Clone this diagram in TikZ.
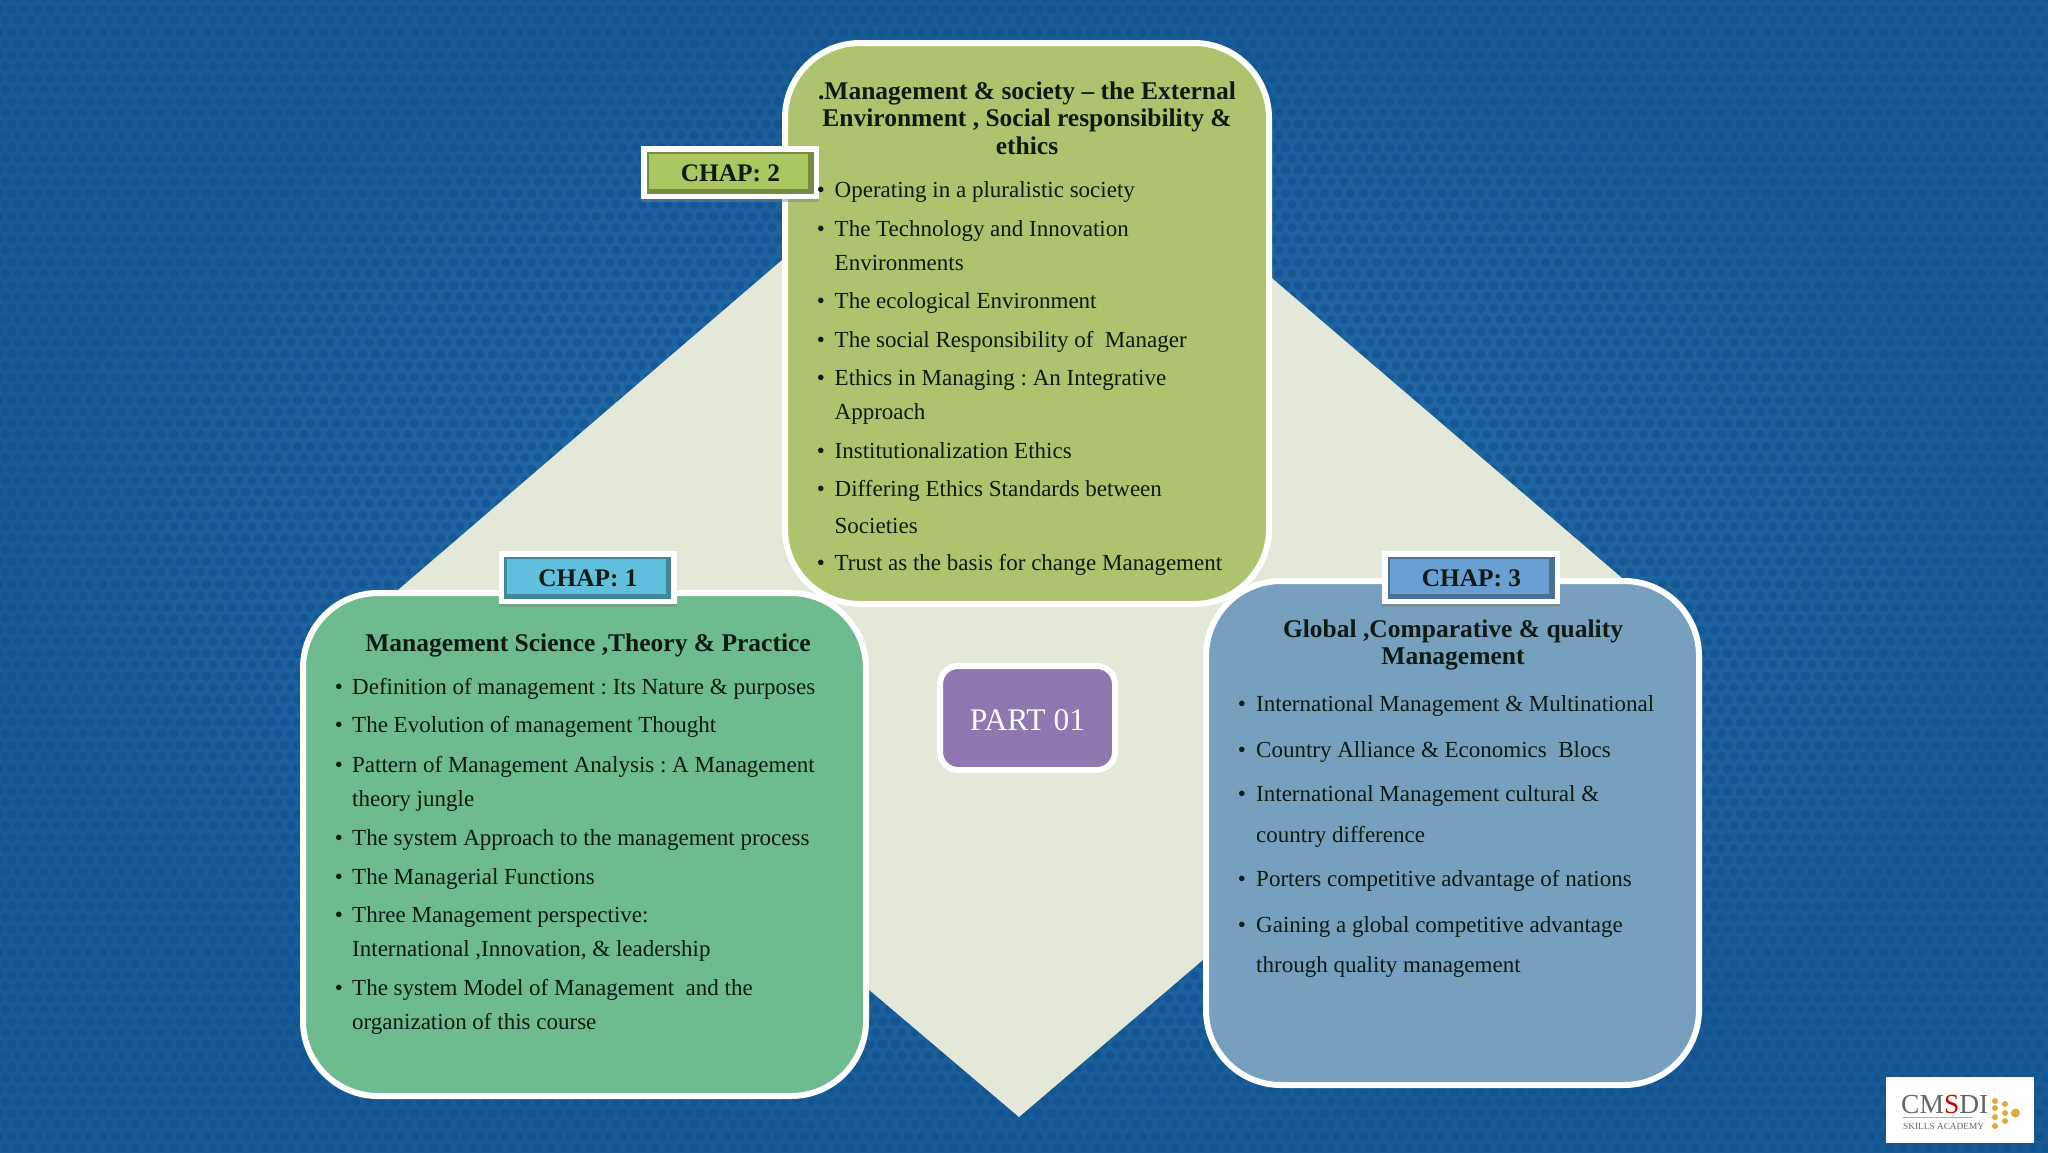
\documentclass[tikz,border=0pt]{standalone}
\usepackage{fontspec}
\setmainfont{Liberation Serif}
\usetikzlibrary{positioning, shadows, patterns}
\pgfdeclarepatternformonly{hexdots}{\pgfqpoint{0pt}{0pt}}{\pgfqpoint{13pt}{23pt}}{\pgfqpoint{13pt}{23pt}}{
  \pgfpathcircle{\pgfqpoint{6.5pt}{5.75pt}}{4.7pt}
  \pgfpathcircle{\pgfqpoint{0pt}{17.25pt}}{4.7pt}
  \pgfpathcircle{\pgfqpoint{13pt}{17.25pt}}{4.7pt}
  \pgfusepath{fill}
}
\definecolor{bgmid}{HTML}{2A72B2}
\definecolor{bgedge}{HTML}{175A95}
\definecolor{bgdot}{HTML}{0F4F8E}
\definecolor{diamondfill}{HTML}{E4E8D9}
\definecolor{chaponefill}{HTML}{6DBB8F}
\definecolor{chaptwofill}{HTML}{AEC36E}
\definecolor{chapthreefill}{HTML}{76A0BE}
\definecolor{partfill}{HTML}{8F77AF}
\definecolor{badgeonefill}{HTML}{5FBFDD}
\definecolor{badgetwofill}{HTML}{AAC762}
\definecolor{badgethreefill}{HTML}{6A9FD3}
\definecolor{inktext}{HTML}{0E1A12}
\definecolor{logogold}{HTML}{DDAA3C}
\tikzstyle{mainbox} = [draw=white, line width=6pt, rounded corners=75pt, inner sep=0pt, drop shadow={shadow xshift=0pt, shadow yshift=-2pt, opacity=.25}]
\tikzstyle{partbox} = [draw=white, line width=6pt, rounded corners=18pt, fill=partfill, text=white, inner sep=0pt, minimum width=175pt, minimum height=104pt, font=\fontsize{31.5}{36}\selectfont, drop shadow={shadow xshift=1pt, shadow yshift=-3pt, opacity=.4}]
\tikzstyle{badgeframe} = [fill=white, inner sep=0pt, minimum width=178pt, minimum height=53pt, drop shadow={shadow xshift=0pt, shadow yshift=-3pt, opacity=.45}]
\tikzstyle{badgeedge} = [inner sep=0pt, minimum width=167pt, minimum height=42pt]
\tikzstyle{badgetext} = [inner sep=0pt, minimum width=159pt, minimum height=35pt, text=inktext, font=\fontsize{25.3}{28}\bfseries\selectfont]
\tikzstyle{headline} = [inner sep=0pt, anchor=base, text=inktext, font=\fontsize{25.5}{28}\bfseries\selectfont]
\tikzstyle{itemline} = [inner sep=0pt, anchor=base west, text=inktext, font=\fontsize{23}{28}\selectfont]
\tikzstyle{itemdot} = [inner sep=0pt, anchor=base, text=inktext, font=\fontsize{23}{28}\selectfont]
\newcommand{\chapbadge}[5]{
  \node[badgeframe] (#1frame) at (#2,#3) {};
  \node[badgeedge, fill=#4!70!black] (#1edge) at (#2,#3) {};
  \node[badgetext, fill=#4] (#1) at (#2-1.5,#3-1) {\hspace*{4pt}\raisebox{-9.85pt}[0pt][0pt]{#5}};
}
\frenchspacing
\begin{document}
\begin{tikzpicture}[x=1pt, y=-1pt]
  \useasboundingbox (0,0) rectangle (2048,1152);
  % backdrop
  \shade[inner color=bgmid, outer color=bgedge] (0,0) rectangle (2048,1152);
  \fill[pattern=hexdots, pattern color=bgdot, opacity=.55] (0,0) rectangle (2048,1152);
  \fill[diamondfill] (1016,59) -- (398,590) -- (1019,1117) -- (1636,590) -- cycle;

  % the three chapter boxes
  \node[mainbox, fill=chaponefill, minimum width=563pt, minimum height=503pt] (chapone) at (584.5,844.5) {};
  \node[mainbox, fill=chapthreefill, minimum width=493pt, minimum height=504pt] (chapthree) at (1452.5,833) {};
  \node[mainbox, fill=chaptwofill, minimum width=484pt, minimum height=561pt] (chaptwo) at (1027,323.5) {};
  \node[partbox] (part) at (1027.5,718) {\raisebox{-12pt}[0pt][0pt]{PART 01}};

  \chapbadge{badgeone}{587.5}{577.5}{badgeonefill}{CHAP: 1}
  \chapbadge{badgetwo}{730}{172.5}{badgetwofill}{CHAP: 2}
  \chapbadge{badgethree}{1471}{577.5}{badgethreefill}{CHAP: 3}

  % chap 2
  \node[headline] (twohead1) at (1027,99) {.Management \& society -- the External};
  \node[headline] (twohead2) at (1027,126.5) {Environment , Social responsibility \&};
  \node[headline] (twohead3) at (1027,154.5) {ethics};
  \foreach \y/\txt [count=\i] in {197/Operating in a pluralistic society,
      236.5/The Technology and Innovation, 270.5/Environments,
      308.5/The ecological Environment, 347.5/The social Responsibility of~ Manager,
      385.5/Ethics in Managing : An Integrative, 419.5/Approach,
      458.5/Institutionalization Ethics, 496.5/Differing Ethics Standards between,
      533.5/Societies, 570.5/Trust as the basis for change Management}
    \node[itemline] (twoitem\i) at (834.5,\y) {\txt};
  \foreach \y [count=\i] in {197,236.5,308.5,347.5,385.5,458.5,496.5,570.5}
    \node[itemdot] (twodot\i) at (821,\y) {\textbullet};

  % chap 1
  \node[headline] (onehead) at (588,651) {Management Science ,Theory \& Practice};
  \foreach \y/\txt [count=\i] in {694.5/Definition of management : Its Nature \& purposes,
      732.5/The Evolution of management Thought,
      772.5/Pattern of Management Analysis : A Management, 806.5/theory jungle,
      845/The system Approach to the management process,
      884/The Managerial Functions, 922/Three Management perspective:,
      956/{International ,Innovation, \& leadership},
      995/The system Model of Management~ and the, 1029/organization of this course}
    \node[itemline] (oneitem\i) at (352,\y) {\txt};
  \foreach \y [count=\i] in {694.5,732.5,772.5,845,884,922,995}
    \node[itemdot] (onedot\i) at (339,\y) {\textbullet};

  % chap 3
  \node[headline] (threehead1) at (1453,637) {Global ,Comparative \& quality};
  \node[headline] (threehead2) at (1453,664) {Management};
  \foreach \y/\txt [count=\i] in {711.5/International Management \& Multinational,
      757.5/Country Alliance \& Economics~ Blocs,
      801.5/International Management cultural \&, 842.5/country difference,
      886/Porters competitive advantage of nations,
      932/Gaining a global competitive advantage, 972.5/through quality management}
    \node[itemline] (threeitem\i) at (1256,\y) {\txt};
  \foreach \y [count=\i] in {711.5,757.5,801.5,886,932}
    \node[itemdot] (threedot\i) at (1242,\y) {\textbullet};

  % logo
  \node[fill=white, inner sep=0pt, minimum width=148pt, minimum height=66pt] (logo) at (1960,1110) {};
  \node[inner sep=0pt, anchor=base west, text=black!60, font=\fontsize{27.5}{30}\selectfont] (logoname) at (1901,1113) {CM{\color{red!80!black}S}DI};
  \draw[logogold, line width=.8pt] (logoname.base west) ++(2,4) -- ++(70,0);
  \node[inner sep=0pt, anchor=base west, text=black!60, font=\fontsize{9.3}{12}\selectfont] (logosub) at (1903,1129) {SKILLS ACADEMY};
  \fill[logogold] foreach \x/\y in {1995/1101,2005/1104,1995/1108,2005/1113,1995/1117,2005/1121,1995/1126} { (\x,\y) circle (3pt) };
  \fill[logogold] (2015.5,1113) circle (4.5pt);
\end{tikzpicture}
\end{document}
